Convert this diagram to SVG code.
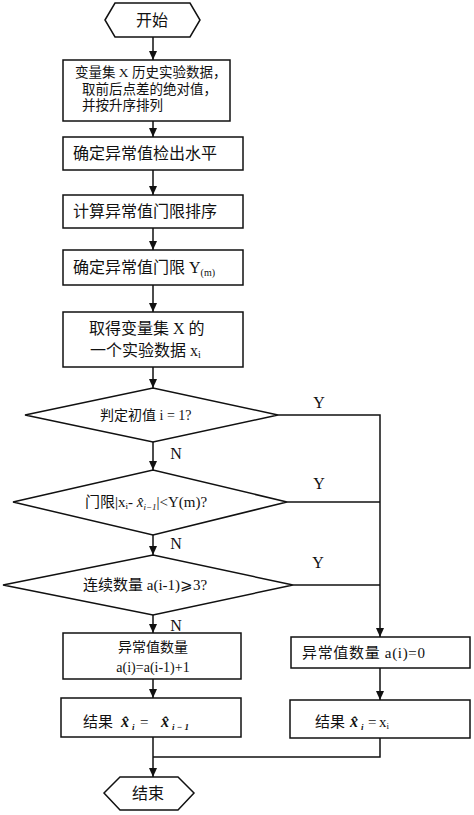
<svg xmlns="http://www.w3.org/2000/svg" width="474" height="815" viewBox="0 0 474 815">
<style>
.s{fill:#fff;stroke:#111;stroke-width:1.5}
.c{fill:none;stroke:#111;stroke-width:1.5}
text{font-family:"Liberation Serif","Noto Sans CJK SC",serif;fill:#111}
.t13{font-size:13.5px}
.t14{font-size:14px}
.t15{font-size:15px}
.t16{font-size:16px}
.lb{font-size:16px}
.it{font-style:italic;font-weight:bold}
</style>
<defs>
<marker id="ah" markerWidth="10" markerHeight="10" refX="9" refY="5" orient="auto" markerUnits="userSpaceOnUse">
<path d="M0,1 L9,5 L0,9 Z" fill="#111"/>
</marker>
</defs>
<rect width="474" height="815" fill="#fff"/>
<g id="connectors">
<line class="c" x1="153" y1="37" x2="153" y2="60" marker-end="url(#ah)"/>
<line class="c" x1="153" y1="121" x2="153" y2="137" marker-end="url(#ah)"/>
<line class="c" x1="153" y1="170" x2="153" y2="195" marker-end="url(#ah)"/>
<line class="c" x1="153" y1="228" x2="153" y2="250" marker-end="url(#ah)"/>
<line class="c" x1="153" y1="285" x2="153" y2="312" marker-end="url(#ah)"/>
<line class="c" x1="153" y1="367" x2="153" y2="388" marker-end="url(#ah)"/>
<line class="c" x1="153" y1="442" x2="153" y2="470" marker-end="url(#ah)"/>
<line class="c" x1="153" y1="535" x2="153" y2="555" marker-end="url(#ah)"/>
<line class="c" x1="153" y1="615" x2="153" y2="633" marker-end="url(#ah)"/>
<polyline class="c" points="278,415 380,415 380,637" marker-end="url(#ah)"/>
<line class="c" x1="287" y1="502" x2="380" y2="502"/>
<line class="c" x1="293" y1="585" x2="380" y2="585"/>
<line class="c" x1="380" y1="668" x2="380" y2="700" marker-end="url(#ah)"/>
<line class="c" x1="153" y1="679" x2="153" y2="698" marker-end="url(#ah)"/>
<line class="c" x1="153" y1="737" x2="153" y2="777" marker-end="url(#ah)"/>
<polyline class="c" points="380,738 380,757 153,757"/>
<text class="lb" x="319" y="408" text-anchor="middle">Y</text>
<text class="lb" x="176" y="459" text-anchor="middle">N</text>
<text class="lb" x="319" y="489" text-anchor="middle">Y</text>
<text class="lb" x="176" y="549" text-anchor="middle">N</text>
<text class="lb" x="318" y="568" text-anchor="middle">Y</text>
<text class="lb" x="176" y="631" text-anchor="middle">N</text>
</g>
<g id="start">
<polygon class="s" points="105,20 115,3 190,3 200,20 190,37 115,37"/>
<text class="t16" x="152" y="26" text-anchor="middle">开始</text>
</g>
<g id="box1">
<rect class="s" x="63" y="60" width="167" height="61"/>
<text class="t13" x="75" y="77">变量集 X 历史实验数据，</text>
<text class="t13" x="82" y="94">取前后点差的绝对值，</text>
<text class="t13" x="82" y="110">并按升序排列</text>
</g>
<g id="box2">
<rect class="s" x="63" y="137" width="180" height="33"/>
<text class="t16" x="73" y="159">确定异常值检出水平</text>
</g>
<g id="box3">
<rect class="s" x="63" y="195" width="180" height="33"/>
<text class="t16" x="73" y="217">计算异常值门限排序</text>
</g>
<g id="box4">
<rect class="s" x="63" y="250" width="180" height="35"/>
<text class="t16" x="73" y="273">确定异常值门限 Y<tspan font-size="10" dy="3">(m)</tspan></text>
</g>
<g id="box5">
<rect class="s" x="63" y="312" width="180" height="55"/>
<text class="t16" x="89" y="334">取得变量集 X 的</text>
<text class="t16" x="90" y="356">一个实验数据 x<tspan font-size="10" dy="2">i</tspan></text>
</g>
<g id="d1">
<polygon class="s" points="25,415 153,388 278,415 153,442"/>
<text class="t14" x="100" y="420">判定初值 i = 1?</text>
</g>
<g id="d2">
<polygon class="s" points="13,502 153,470 287,502 153,535"/>
<text class="t15" x="85" y="507">门限|x<tspan font-size="9" dy="2">i</tspan><tspan dy="-2">- </tspan><tspan font-style="italic">x̂</tspan><tspan font-size="9" dy="3" font-style="italic">i−1</tspan><tspan dy="-3">|&lt;Y(m)?</tspan></text>
</g>
<g id="d3">
<polygon class="s" points="3,585 153,555 293,585 153,615"/>
<text class="t15" x="83" y="590">连续数量 a(i-1)⩾3?</text>
</g>
<g id="box6">
<rect class="s" x="63" y="633" width="178" height="46"/>
<text class="t14" x="153" y="652" text-anchor="middle">异常值数量</text>
<text class="t14" x="153" y="672" text-anchor="middle">a(i)=a(i-1)+1</text>
</g>
<g id="box7">
<rect class="s" x="291" y="637" width="179" height="31"/>
<text class="t15" x="302" y="658" textLength="123">异常值数量 a(i)=0</text>
</g>
<g id="box8">
<rect class="s" x="61" y="698" width="180" height="39"/>
<text class="t15" x="83" y="727">结果</text>
<text x="121" y="727" font-size="16" class="it">x̂</text>
<text x="132" y="730" font-size="9" class="it">i</text>
<text x="140" y="727" font-size="15">=</text>
<text x="161" y="727" font-size="16" class="it">x̂</text>
<text x="172" y="730" font-size="9" class="it">i − 1</text>
</g>
<g id="box9">
<rect class="s" x="290" y="700" width="180" height="38"/>
<text class="t15" x="315" y="727">结果</text>
<text x="350" y="727" font-size="16" class="it">x̂</text>
<text x="361" y="730" font-size="9" class="it">i</text>
<text x="368" y="727" font-size="15">=</text>
<text x="379" y="727" font-size="15">x<tspan font-size="9" dy="2">i</tspan></text>
</g>
<g id="end">
<polygon class="s" points="104,793 120,777 178,777 194,793 178,810 120,810"/>
<text class="t16" x="148" y="799" text-anchor="middle">结束</text>
</g>
</svg>
